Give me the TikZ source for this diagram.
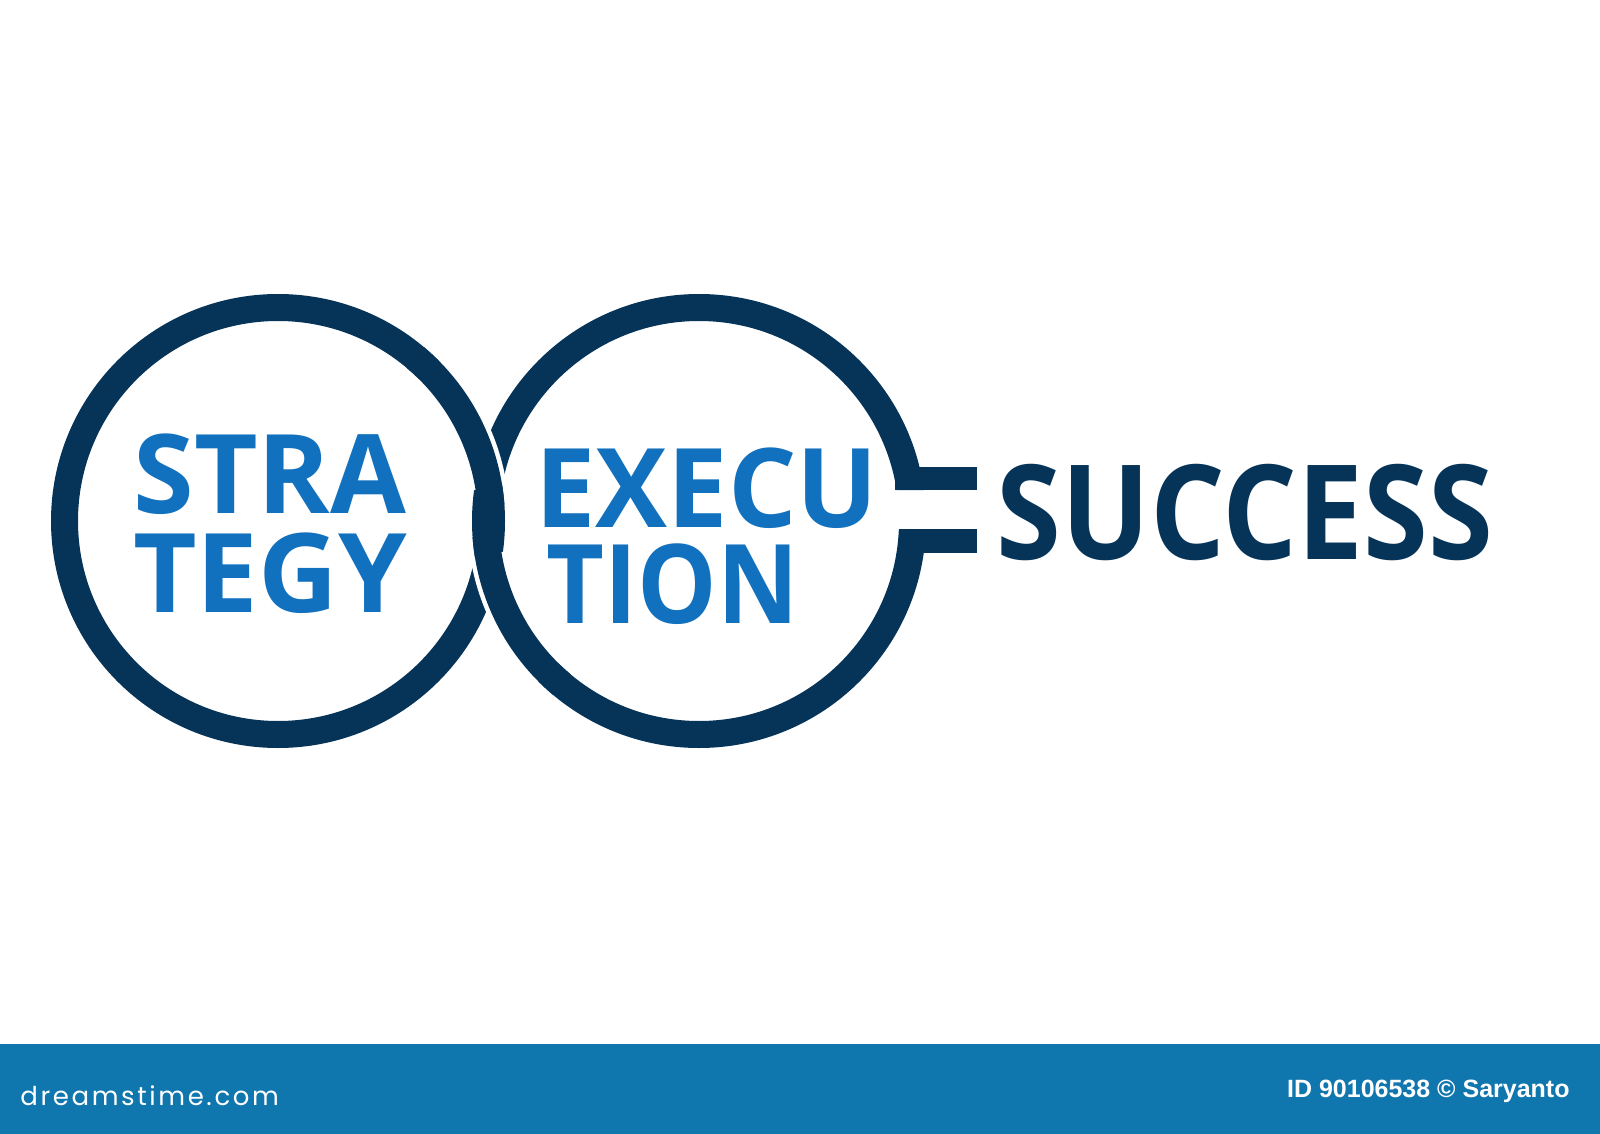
\documentclass[tikz,border=0pt]{standalone}
\usepackage{fontspec}
\setmainfont{Open Sans}
\newfontfamily\logofont[LetterSpace=10]{Poppins}
\newfontfamily\creditfont{Liberation Sans}
\definecolor{navy}{RGB}{6,52,89}
\definecolor{wordblue}{RGB}{17,113,190}
\definecolor{band}{RGB}{15,118,174}
\begin{document}
\begin{tikzpicture}[x=0.5pt,y=-0.5pt,
  ring/.style={draw=navy,line width=13.5pt},
  gapring/.style={draw=white,line width=18pt},
  word/.style={inner sep=0pt,text=wordblue,font=\bfseries},
  bigword/.style={inner sep=0pt,anchor=base west,text=navy,font=\fontsize{65.8}{66}\selectfont\bfseries},
  bar/.style={fill=navy,draw=none}]
\useasboundingbox (0,0) rectangle (1600,1134);
\fill[white] (0,0) rectangle (1600,1134);
\coordinate (L) at (278,521);
\coordinate (R) at (699,521);
% left ring
\draw[ring] (L) circle[radius=213.5];
% right ring, open towards the bars
\begin{scope}[even odd rule]
  \clip (0,0) rectangle (1600,1134) (880,490) rectangle (960,529);
  \draw[ring] (R) circle[radius=213.5];
\end{scope}
% upper crossing: left ring passes over right ring
\draw[gapring] (L) ++(-9:213.5) arc[start angle=-9,end angle=-45,radius=213.5];
\draw[ring] (L) ++(-4:213.5) arc[start angle=-4,end angle=-50,radius=213.5];
% lower crossing: right ring passes over left ring
\draw[gapring] (R) ++(171:213.5) arc[start angle=171,end angle=135,radius=213.5];
\draw[ring] (R) ++(176:213.5) arc[start angle=176,end angle=130,radius=213.5];
% bars
\path[bar] (895,467) rectangle (977,490);
\path[bar] (900,529) rectangle (977,553);
% words
\node[word,anchor=base] (strategy) at (270,513)
  {\parbox[t]{200pt}{\centering\fontsize{55}{49.5}\selectfont STRA\\TEGY}};
\node[word,anchor=base west] (execution) at (535,527)
  {\parbox[t]{200pt}{\raggedright\fontsize{55}{48}\selectfont
   {\addfontfeatures{FakeStretch=0.98}EXECU}\\
   \hspace*{5.5pt}{\addfontfeatures{FakeStretch=0.91}TION}}};
\node[bigword] (succ) at (996,559) {\addfontfeatures{FakeStretch=0.894}SUCCESS};
% footer band
\fill[band] (0,1044) rectangle (1600,1134);
\node[inner sep=0pt,anchor=base west,text=white,font=\logofont\fontsize{13}{13}\selectfont] (logo) at (20,1105) {dreamstime.com};
\node[inner sep=0pt,anchor=base east,text=white,font=\creditfont\bfseries\fontsize{12.5}{13}\selectfont] (credit) at (1570,1097) {ID 90106538 © Saryanto};
\end{tikzpicture}
\end{document}
